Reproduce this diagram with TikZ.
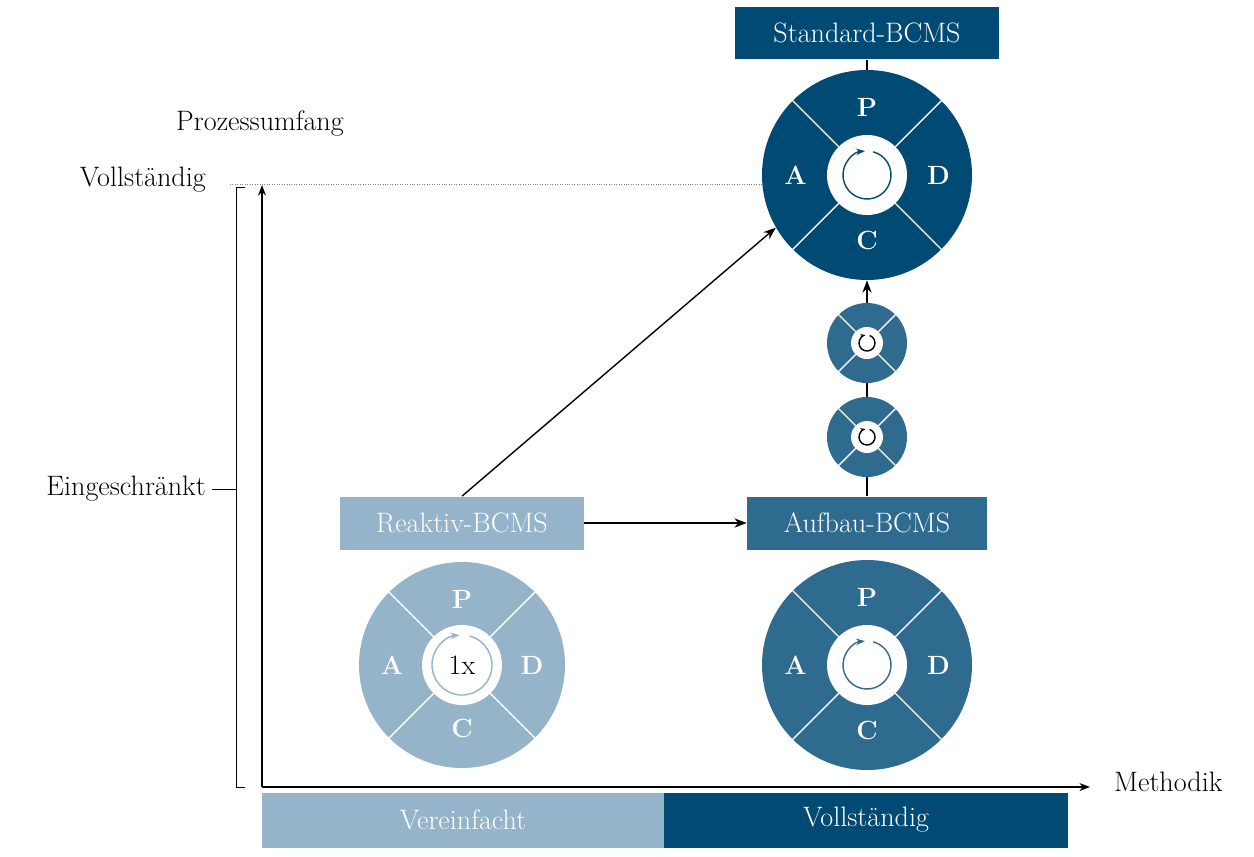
\documentclass[tikz,border=0pt]{standalone}
\usetikzlibrary{arrows.meta,positioning,calc}
\definecolor{bcmsdark}{HTML}{004A73}
\definecolor{bcmsmid}{HTML}{2F6A8F}
\definecolor{bcmslight}{HTML}{95B4C9}
% #1 name, #2 centre, #3 outer radius, #4 inner radius, #5 colour, #6 letters (1/0)
\newcommand\pdcawheel[6]{
    \fill[#5] (#2) circle (#3);
    \foreach \a in {45,135,225,315} {
        \draw[white,thick] (#2) ++(\a:#4) -- ++(\a:#3-#4);
    }
    \fill[white] (#2) circle (#4);
    \node[circle,minimum size={2*#3*0.02cm},inner sep=0pt] (#1) at (#2) {};
    \ifnum#6=1
        \begin{scope}[every node/.style={text=white,font=\fontsize{15}{17}\selectfont\bfseries}]
            \node at ($(#2)+(0,{-0.64*#3})$) {P};
            \node at ($(#2)+({0.68*#3},0)$) {D};
            \node at ($(#2)+(0,{0.62*#3})$) {C};
            \node at ($(#2)+({-0.68*#3},0)$) {A};
        \end{scope}
    \fi
}
\begin{document}
\begin{tikzpicture}[x=0.02cm,y=-0.02cm,font=\fontsize{16}{18}\selectfont,
    box/.style={minimum height=1.06cm,text=white,inner sep=0pt},
    link/.style={-{Stealth[length=7pt]},thick}]
    \useasboundingbox (0,0) rectangle (1254,856);

    % boxes
    \node[box,fill=bcmsdark,minimum width=5.3cm] (std) at (867,33) {Standard-BCMS};
    \node[box,fill=bcmsmid,minimum width=4.8cm] (aufbau) at (867,523) {Aufbau-BCMS};
    \node[box,fill=bcmslight,minimum width=4.88cm] (reaktiv) at (462,523) {Reaktiv-BCMS};

    % wheels
    \pdcawheel{wstd}{867,175}{105}{40}{bcmsdark}{1}
    \pdcawheel{wsmalla}{867,343}{40}{16}{bcmsmid}{0}
    \pdcawheel{wsmallb}{867,437}{40}{16}{bcmsmid}{0}
    \pdcawheel{waufbau}{867,665}{105}{40}{bcmsmid}{1}
    \pdcawheel{wreaktiv}{462,665}{103}{40}{bcmslight}{1}

    % cycle arrows
    \draw[bcmsdark,thick,-{Stealth[length=5pt]}] (867,175) ++(-75:24) arc[start angle=-75,end angle=265,radius=24];
    \draw[bcmsmid,thick,-{Stealth[length=5pt]}] (867,665) ++(-75:24) arc[start angle=-75,end angle=265,radius=24];
    \draw[bcmslight,thick,-{Stealth[length=5pt]}] (462,665) ++(-75:30) arc[start angle=-75,end angle=265,radius=30];
    \node at (462,665) {1x};
    \foreach \y in {343,437} {
        \draw[black,thick,-{Stealth[length=3pt]}] (867,\y) ++(-70:8) arc[start angle=-70,end angle=260,radius=8];
    }

    % connectors
    \draw[thick] (std) -- (wstd);
    \draw[thick] (aufbau) -- (wsmallb);
    \draw[thick] (wsmallb) -- (wsmalla);
    \draw[link] (wsmalla) -- (wstd);
    \draw[link] (reaktiv.north) -- (wstd.210);
    \draw[link] (reaktiv) -- (aufbau);

    % axes
    \coordinate (origin) at (262,787);
    \coordinate (ytop) at (262,185);
    \coordinate (xend) at (1090,787);
    \draw[thick,-{Stealth[length=6pt]}] (origin) -- (ytop);
    \draw[thick,-{Stealth[length=6pt]}] (origin) -- (xend);
    \node[anchor=west] (methodik) at (1108,782) {Methodik};
    \node (prozess) at (260,123) {Prozessumfang};
    \node[anchor=east] (vollst) at (212,180) {Vollständig};
    \draw[densely dotted,gray] (230,184) -- (wstd.west |- 0,184);

    % bracket
    \draw (245,187) -- (236,187) -- (236,787) -- (245,787);
    \node[anchor=east] (einge) at (212,489) {Eingeschränkt};
    \draw (einge.east) -- (236,489);

    % method bars
    \node[box,fill=bcmslight,minimum width=8.04cm,minimum height=1.1cm] (verein) at (463,820) {Vereinfacht};
    \node[box,fill=bcmsdark,minimum width=8.08cm,minimum height=1.1cm] (vollm) at (866,820) {Vollständig};
\end{tikzpicture}
\end{document}
